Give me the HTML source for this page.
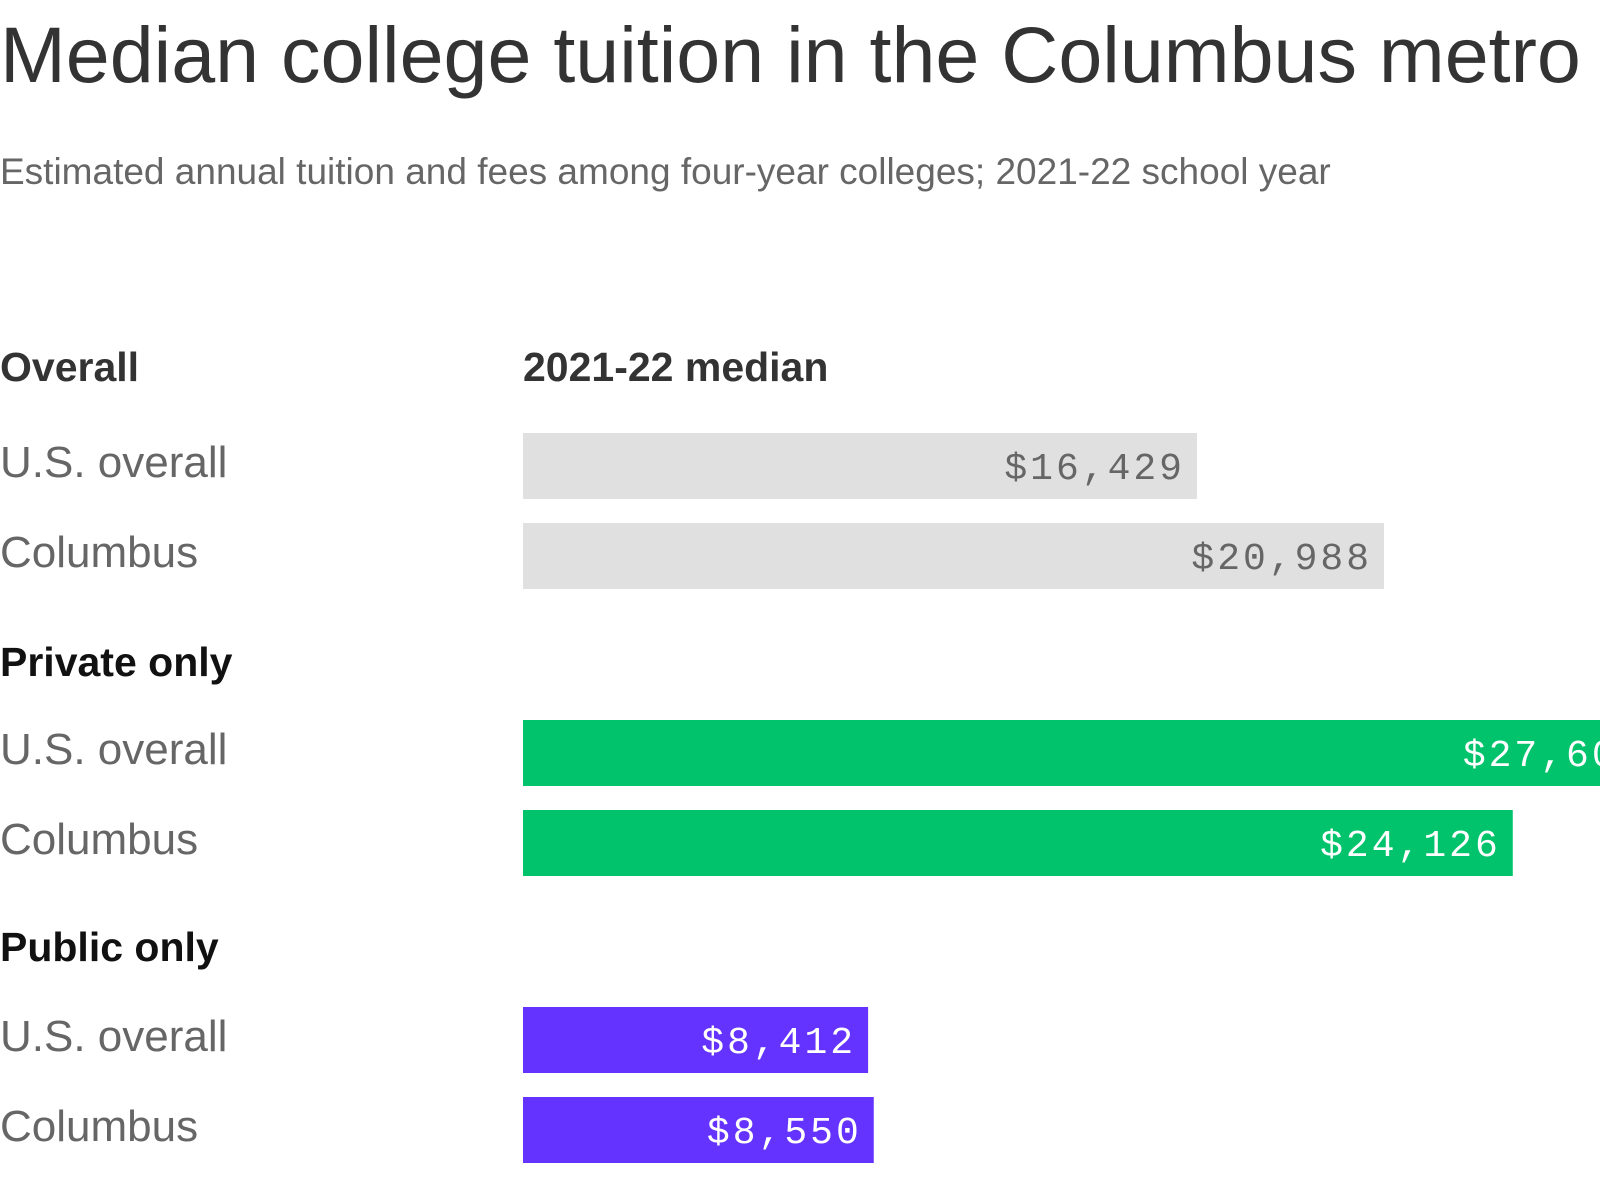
<!DOCTYPE html>
<html><head><meta charset="utf-8"><style>
html,body{margin:0;padding:0;background:#fff;width:1600px;height:1200px;overflow:hidden}
svg text{font-family:"Liberation Sans",Arial,sans-serif}
.mono{font-family:"Liberation Mono",monospace}
</style></head><body>
<svg id="chart" width="1600" height="1200" viewBox="0 0 1600 1200" xmlns="http://www.w3.org/2000/svg">
<text x="0" y="82" font-size="79" fill="#333">Median college tuition in the Columbus metro</text>
<text x="0" y="184" font-size="37" fill="#666">Estimated annual tuition and fees among four-year colleges; 2021-22 school year</text>
<text x="523" y="381" font-size="41" font-weight="bold" fill="#333">2021-22 median</text>
<g id="bars"></g>
</svg>
<script>
const groups = ["Overall", "Private only", "Public only"];
const rowLabels = ["U.S. overall", "Columbus"];
const values = [16429, 20988, 27604, 24126, 8412, 8550];
const valueLabels = ["$16,429", "$20,988", "$27,604", "$24,126", "$8,412", "$8,550"];
const groupColors = ["#dfe0df", "#00c36b", "#6533ff"];
const labelColors = ["#666", "#fff", "#fff"];

const NS = "http://www.w3.org/2000/svg";
const g = document.getElementById("bars");
const x0 = 523, scale = (1197 - 523) / 16429;
function xw(v){ return v * scale; }
const groupHeaderY = [381, 676, 961];
const barTops = [[433, 523], [720, 810], [1007, 1097]];
function mk(tag, attrs){ const e = document.createElementNS(NS, tag); for (const k in attrs) e.setAttribute(k, attrs[k]); return e; }
groups.forEach((grp, gi) => {
  if (gi > 0) {
    const h = mk("text", {x: 0, y: groupHeaderY[gi], "font-size": 41, "font-weight": "bold", fill: gi === 0 ? "#333" : "#111"});
    
    
    h.textContent = grp; g.appendChild(h);
  } else {
    const h = mk("text", {x: 0, y: groupHeaderY[gi], "font-size": 41, "font-weight": "bold", fill: "#333"});
    
    
    h.textContent = grp; g.appendChild(h);
  }
  rowLabels.forEach((rl, ri) => {
    const i = gi * 2 + ri;
    const top = barTops[gi][ri];
    const lab = mk("text", {x: 0, y: top + 44, "font-size": 44, fill: "#666"});
    
    
    lab.textContent = rl; g.appendChild(lab);
    const w = xw(values[i]);
    const r = mk("rect", {x: x0, y: top, width: w, height: 66, fill: groupColors[gi]});
    
    
    g.appendChild(r);
    const t = mk("text", {x: x0 + w - 12, y: top + 46, "font-size": 38, "text-anchor": "end", fill: labelColors[gi], "letter-spacing": 3, "class": "mono"});
    
    
    t.textContent = valueLabels[i]; g.appendChild(t);
  });
});
</script>
</body></html>
